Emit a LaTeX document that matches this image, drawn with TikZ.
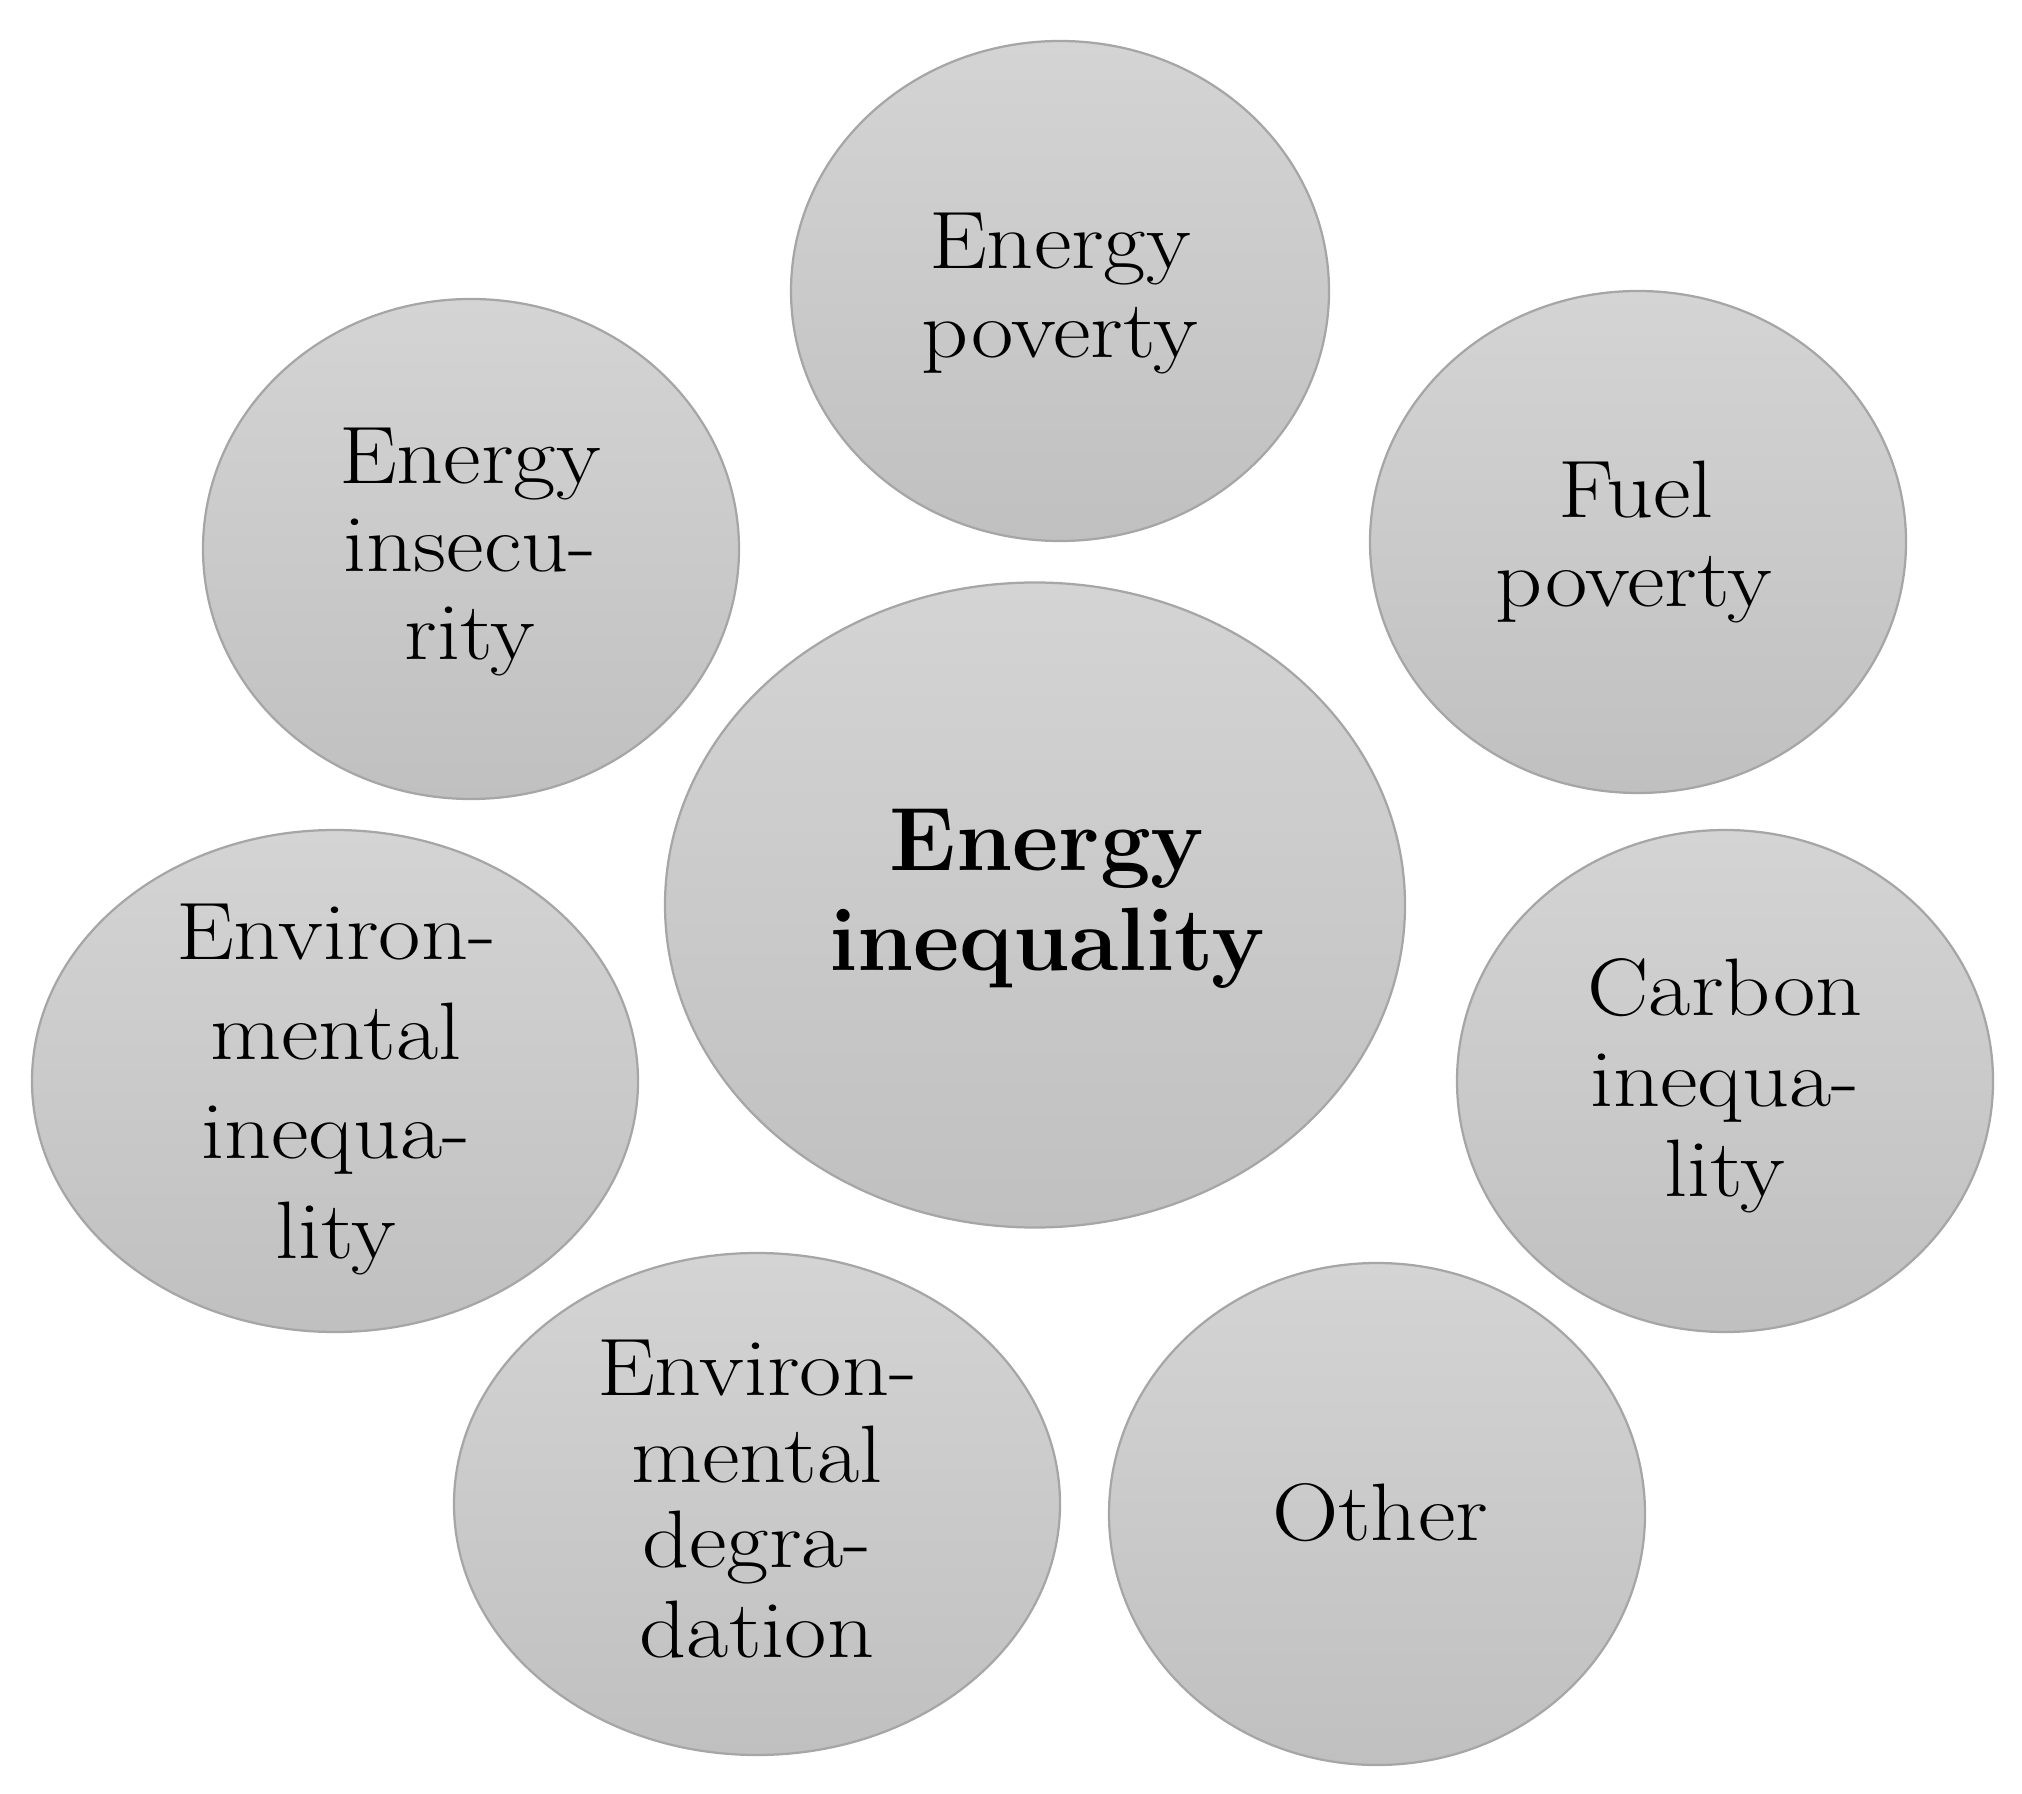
\documentclass[tikz,border=0pt]{standalone}
\usepackage{graphicx}
\usetikzlibrary{shapes.geometric}
\definecolor{topgray}{HTML}{D4D4D4}
\definecolor{botgray}{HTML}{C0C0C0}
\definecolor{edgegray}{HTML}{A6A6A6}
\newcommand{\widetxt}[1]{\scalebox{1.13}[1]{#1}}
\begin{document}
\begin{tikzpicture}[x=0.2pt,y=-0.2pt,
  bubble/.style={ellipse, draw=edgegray, line width=0.45pt, top color=topgray, bottom color=botgray, inner sep=0pt},
  lbl/.style={anchor=base, inner sep=0pt, font=\fontsize{16.3pt}{17pt}\selectfont},
  blbl/.style={anchor=base, inner sep=0pt, font=\fontsize{18pt}{20pt}\selectfont\bfseries}]
\useasboundingbox (0,0) rectangle (2022,1794);
% bubbles
\node[bubble, minimum width=740*0.2pt, minimum height=645*0.2pt] (ctr) at (1035,905) {};
\node[bubble, minimum width=538*0.2pt, minimum height=500*0.2pt] (epov) at (1060,291) {};
\node[bubble, minimum width=536*0.2pt, minimum height=500*0.2pt] (eins) at (471,549) {};
\node[bubble, minimum width=536*0.2pt, minimum height=502*0.2pt] (fpov) at (1638,542) {};
\node[bubble, minimum width=536*0.2pt, minimum height=502*0.2pt] (carb) at (1725,1081) {};
\node[bubble, minimum width=536*0.2pt, minimum height=502*0.2pt] (oth) at (1377,1514) {};
\node[bubble, minimum width=606*0.2pt, minimum height=502*0.2pt] (edeg) at (757,1504) {};
\node[bubble, minimum width=606*0.2pt, minimum height=502*0.2pt] (eineq) at (335,1081) {};
% labels
\node[blbl] (ctr1) at (1047,870) {Energy};
\node[blbl] (ctr2) at (1047,970) {inequality};
\node[lbl] (epov1) at (1060,269) {\widetxt{Energy}};
\node[lbl] (epov2) at (1060,358) {\widetxt{poverty}};
\node[lbl] (eins1) at (470,484) {\widetxt{Energy}};
\node[lbl] (eins2) at (470,572) {\widetxt{insecu-}};
\node[lbl] (eins3) at (470,660) {\widetxt{rity}};
\node[lbl] (fpov1) at (1636,518) {\widetxt{Fuel}};
\node[lbl] (fpov2) at (1634,607) {\widetxt{poverty}};
\node[lbl] (carb1) at (1725,1016) {\widetxt{Carbon}};
\node[lbl] (carb2) at (1725,1106) {\widetxt{inequa-}};
\node[lbl] (carb3) at (1725,1196) {\widetxt{lity}};
\node[lbl] (oth1) at (1380,1540) {\widetxt{Other}};
\node[lbl] (edeg1) at (757,1395) {\widetxt{Environ-}};
\node[lbl] (edeg2) at (757,1482) {\widetxt{mental}};
\node[lbl] (edeg3) at (757,1567) {\widetxt{degra-}};
\node[lbl] (edeg4) at (757,1657) {\widetxt{dation}};
\node[lbl] (eineq1) at (336,960) {\widetxt{Environ-}};
\node[lbl] (eineq2) at (336,1060) {\widetxt{mental}};
\node[lbl] (eineq3) at (336,1158) {\widetxt{inequa-}};
\node[lbl] (eineq4) at (336,1258) {\widetxt{lity}};
\end{tikzpicture}
\end{document}
